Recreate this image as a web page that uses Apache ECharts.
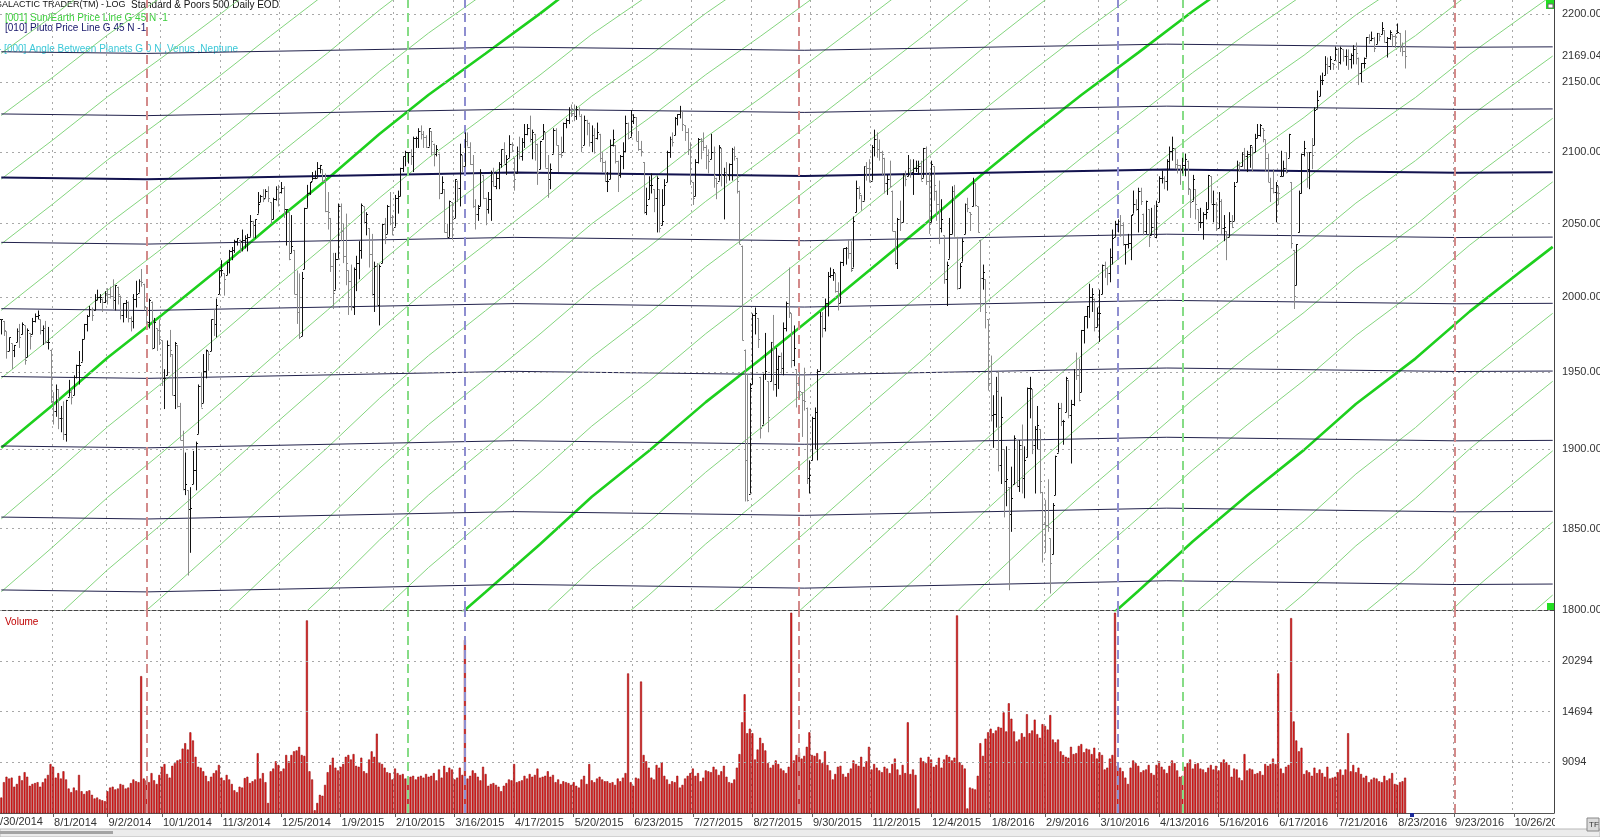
<!DOCTYPE html>
<html>
<head>
<meta charset="utf-8">
<title>Galactic Trader - S&amp;P 500 Daily</title>
<script src="https://cdn.jsdelivr.net/npm/echarts@6.0.0/dist/echarts.min.js"></script>
<style>
  html, body { margin: 0; padding: 0; background: #fff; }
  #chart { width: 1600px; height: 837px; }
</style>
</head>
<body>
<div id="chart"></div>
<script>
// ---- data (S&P 500 daily, 7/3/2014 .. 8/26/2016) ----
const closes = [
  // 2014 Jul
  1985,1978,1964,1973,1965,1968,1977,1973,1982,1958,1978,1974,1984,1987,1988,1978,1979,1970,1970,1931,
  // Aug
  1925,1939,1920,1920,1910,1932,1937,1934,1947,1955,1955,1972,1982,1987,1992,1988,1998,2000,2000,1997,2003,
  // Sep
  2002,2001,1998,2008,2002,1988,1996,1997,1986,1984,1999,2002,2011,2010,1994,1983,1998,1966,1983,1978,1972,
  // Oct
  1946,1946,1968,1965,1935,1969,1928,1906,1875,1878,1862,1863,1887,1904,1941,1927,1951,1965,1962,1985,1982,1995,2018,
  // Nov
  2018,2012,2024,2031,2032,2038,2040,2038,2039,2040,2041,2052,2049,2053,2064,2069,2067,2073,2068,
  // Dec
  2053,2067,2074,2072,2075,2060,2060,2026,2035,2002,1990,1973,2013,2061,2071,2079,2082,2082,2089,2091,2080,2059,
  // 2015 Jan
  2058,2021,2003,2026,2062,2045,2028,2023,2011,1993,2019,2023,2032,2063,2051,2057,2029,2002,2021,1995,
  // Feb
  2021,2050,2041,2062,2055,2046,2068,2069,2089,2097,2100,2100,2097,2110,2110,2115,2113,2111,2104,
  // Mar
  2117,2108,2099,2102,2071,2079,2044,2041,2066,2053,2081,2075,2099,2090,2108,2104,2092,2062,2057,2061,2086,2068,
  // Apr
  2060,2067,2080,2076,2082,2092,2102,2092,2095,2106,2105,2081,2101,2097,2107,2113,2117,2109,2114,2106,2086,
  // May
  2108,2115,2089,2081,2088,2116,2105,2099,2098,2121,2123,2130,2128,2126,2131,2126,2104,2123,2121,2107,
  // Jun
  2112,2110,2114,2096,2093,2080,2080,2105,2109,2094,2084,2097,2101,2121,2110,2122,2125,2108,2102,2101,2058,2063,
  // Jul
  2077,2077,2068,2082,2047,2052,2077,2100,2109,2107,2124,2127,2129,2120,2114,2102,2080,2068,2093,2109,2108,2104,
  // Aug
  2098,2094,2100,2084,2078,2104,2084,2086,2084,2092,2102,2097,2080,2036,1971,1893,1868,1940,1988,1989,1972,
  // Sep
  1914,1949,1951,1921,1970,1942,1952,1961,1953,1979,1996,1990,1958,1966,1943,1938,1932,1931,1882,1884,1920,
  // Oct
  1924,1951,1987,1979,1996,2014,2015,2017,2004,1994,2024,2033,2033,2030,2018,2052,2075,2071,2066,2090,2089,2079,
  // Nov
  2104,2109,2102,2100,2099,2078,2081,2076,2045,2023,2053,2051,2084,2081,2089,2086,2089,2089,2090,2080,
  // Dec
  2103,2080,2050,2092,2077,2064,2047,2053,2012,2022,2043,2073,2041,2006,2021,2038,2064,2061,2057,2078,2063,2044,
  // 2016 Jan
  2013,2017,1990,1943,1922,1923,1938,1890,1921,1880,1881,1859,1869,1907,1877,1903,1882,1893,1940,
  // Feb
  1940,1903,1913,1916,1880,1853,1852,1851,1829,1865,1896,1927,1918,1918,1946,1922,1929,1952,1948,1932,
  // Mar
  1978,1987,1994,2000,2002,1980,1989,1989,2022,2020,2016,2027,2040,2050,2052,2049,2036,2036,2037,2056,2064,2060,
  // Apr
  2073,2066,2045,2066,2041,2048,2041,2062,2082,2082,2080,2094,2101,2103,2092,2091,2088,2091,2095,2075,2065,
  // May
  2081,2064,2051,2051,2057,2058,2084,2064,2064,2047,2066,2047,2048,2041,2052,2048,2076,2091,2090,2099,2097,
  // Jun
  2099,2105,2100,2110,2112,2119,2116,2096,2079,2075,2072,2077,2071,2083,2089,2086,2113,2037,2001,2036,2071,2099,
  // Jul
  2103,2088,2100,2098,2130,2137,2152,2152,2163,2162,2167,2163,2174,2165,2175,2169,2169,2167,2170,2174,
  // Aug
  2171,2157,2164,2164,2183,2181,2182,2175,2186,2184,2190,2179,2182,2187,2184,2183,2187,2176,2173,2169
];

const highs = [
  1985,1984,1977,1973,1969,1968,1979,1982,1983,1981,1979,1976,1986,1989,1991,1985,1981,1984,1980,1965,
  1937,1942,1939,1928,1931,1932,1945,1939,1948,1955,1964,1972,1982,1988,1994,1993,2002,2005,2002,1999,2004,
  2006,2007,2012,2008,2007,2001,1996,1998,1997,1987,2002,2011,2012,2019,2009,1993,1999,1997,1986,1979,1985,
  1971,1952,1971,1978,1962,1970,1968,1930,1912,1898,1874,1876,1899,1905,1942,1950,1962,1965,1964,1985,1992,1999,2018,
  2025,2016,2024,2032,2034,2039,2040,2039,2046,2042,2043,2056,2052,2053,2072,2070,2074,2074,2076,
  2065,2068,2076,2077,2079,2076,2060,2058,2056,2032,2018,2016,2017,2061,2077,2079,2086,2087,2093,2091,2088,2085,
  2072,2054,2030,2030,2064,2064,2050,2057,2018,2022,2020,2028,2038,2064,2062,2058,2047,2043,2024,2023,
  2022,2050,2054,2063,2072,2056,2070,2073,2089,2097,2101,2100,2102,2111,2111,2117,2119,2115,2112,
  2117,2115,2106,2105,2099,2083,2074,2050,2066,2065,2081,2080,2106,2098,2114,2114,2107,2098,2067,2063,2088,2084,
  2068,2072,2087,2089,2086,2093,2102,2107,2098,2112,2107,2096,2104,2111,2110,2120,2120,2126,2116,2113,2106,
  2108,2120,2114,2098,2092,2117,2117,2105,2111,2121,2124,2132,2134,2134,2133,2132,2127,2126,2123,2121,
  2119,2117,2121,2113,2100,2094,2086,2109,2116,2105,2094,2098,2107,2126,2121,2130,2127,2125,2115,2108,2093,2075,
  2083,2085,2074,2083,2074,2074,2081,2101,2111,2114,2125,2127,2133,2129,2119,2117,2107,2079,2095,2110,2110,2114,
  2105,2102,2113,2104,2082,2105,2103,2089,2093,2092,2103,2104,2096,2073,2035,1965,1949,1943,1989,1993,1986,
  1947,1949,1976,1944,1970,1988,1966,1961,1963,1983,1997,2020,1989,1981,1952,1950,1937,1953,1927,1893,1921,
  1927,1952,1990,1990,1999,2017,2020,2019,2016,2010,2024,2033,2034,2039,2038,2055,2080,2076,2070,2090,2093,2095,
  2105,2116,2114,2109,2101,2096,2084,2094,2073,2045,2054,2066,2085,2087,2098,2095,2095,2094,2094,2094,
  2103,2104,2086,2094,2090,2073,2080,2067,2042,2024,2054,2076,2077,2041,2023,2040,2064,2068,2058,2082,2078,2062,
  2039,2022,2012,1985,1961,1935,1947,1951,1934,1900,1902,1876,1889,1909,1906,1906,1916,1902,1940,
  1947,1939,1915,1928,1913,1873,1868,1881,1844,1866,1896,1930,1930,1919,1947,1945,1932,1952,1963,1959,
  1978,1987,1994,2009,2006,1999,1993,2005,2022,2024,2020,2033,2046,2052,2053,2056,2051,2036,2043,2056,2073,2067,
  2075,2075,2057,2066,2060,2061,2063,2066,2083,2087,2083,2095,2104,2111,2103,2095,2091,2096,2099,2094,2074,
  2084,2074,2060,2061,2058,2065,2084,2083,2073,2065,2072,2067,2056,2045,2058,2056,2079,2094,2093,2100,2103,
  2101,2105,2104,2113,2120,2120,2117,2109,2099,2082,2088,2079,2076,2101,2094,2100,2113,2079,2032,2036,2073,2099,
  2108,2100,2100,2110,2132,2144,2155,2157,2169,2168,2169,2164,2176,2175,2176,2174,2174,2174,2171,2177,
  2179,2168,2164,2168,2183,2185,2187,2183,2186,2186,2194,2188,2183,2188,2185,2185,2193,2186,2179,2188
];

const lows = [
  1975,1974,1959,1964,1952,1960,1970,1966,1975,1955,1960,1965,1975,1983,1985,1975,1968,1969,1965,1930,
  1916,1921,1913,1911,1906,1905,1934,1929,1935,1946,1942,1957,1972,1977,1987,1984,1991,1998,1996,1990,1996,
  1995,1999,1992,1991,1995,1985,1983,1986,1983,1977,1979,1993,2003,2007,1991,1982,1979,1965,1966,1964,1968,
  1941,1926,1948,1960,1935,1926,1927,1906,1874,1871,1821,1835,1878,1874,1910,1927,1930,1946,1951,1964,1974,1973,2002,
  2014,2001,2015,2016,2025,2030,2035,2030,2031,2033,2031,2041,2040,2040,2057,2065,2065,2068,2065,
  2050,2053,2066,2062,2071,2054,2035,2025,2030,2002,1982,1972,1974,2019,2061,2070,2080,2081,2082,2085,2079,2058,
  2046,2017,1992,2005,2026,2038,2023,2008,1988,1991,1988,2004,2012,2026,2050,2042,2020,2001,1990,1994,
  1981,2023,2036,2043,2049,2042,2048,2057,2069,2086,2090,2092,2091,2086,2103,2103,2109,2103,2103,
  2104,2098,2090,2097,2067,2071,2044,2040,2041,2039,2054,2065,2062,2086,2090,2104,2091,2061,2046,2052,2062,2067,
  2049,2057,2052,2076,2074,2074,2089,2092,2084,2096,2100,2073,2085,2095,2094,2103,2112,2107,2095,2094,2077,
  2088,2109,2089,2068,2074,2099,2105,2086,2096,2100,2117,2120,2125,2122,2123,2126,2100,2105,2112,2104,
  2100,2099,2109,2093,2086,2079,2072,2081,2104,2092,2072,2082,2088,2100,2109,2111,2120,2108,2101,2097,2057,2056,
  2067,2071,2058,2044,2044,2049,2063,2079,2096,2104,2112,2119,2124,2115,2108,2098,2077,2063,2069,2092,2095,2101,
  2088,2085,2095,2075,2067,2080,2076,2053,2078,2080,2080,2094,2071,2036,1971,1867,1867,1872,1942,1975,1966,
  1907,1916,1945,1911,1944,1938,1934,1939,1949,1948,1977,1986,1953,1954,1927,1933,1908,1925,1878,1872,1893,
  1900,1893,1951,1973,1977,1987,2013,2011,2003,1991,1996,2021,2022,2026,2017,2020,2058,2067,2059,2066,2080,2079,
  2080,2097,2096,2094,2084,2071,2070,2075,2045,2022,2019,2045,2051,2076,2083,2082,2070,2086,2084,2080,
  2082,2077,2043,2051,2066,2052,2036,2044,2009,1994,2026,2043,2041,2005,2006,2024,2043,2058,2045,2062,2062,2044,
  1990,2005,1979,1938,1918,1901,1914,1886,1878,1857,1864,1812,1848,1878,1876,1873,1872,1869,1895,
  1920,1897,1872,1900,1872,1829,1835,1848,1810,1834,1871,1898,1915,1903,1924,1920,1891,1928,1945,1931,
  1937,1969,1979,1986,1990,1977,1980,1970,2002,2013,2008,2010,2022,2041,2044,2041,2035,2022,2033,2025,2057,2059,
  2044,2063,2042,2043,2034,2042,2041,2040,2065,2078,2074,2073,2088,2094,2088,2085,2077,2085,2083,2070,2054,
  2066,2053,2045,2047,2039,2053,2060,2064,2051,2045,2047,2043,2038,2025,2041,2047,2052,2079,2086,2090,2088,
  2086,2089,2086,2100,2110,2111,2107,2086,2079,2065,2071,2051,2063,2083,2083,2085,2096,2033,1992,2008,2044,2071,
  2097,2075,2074,2088,2105,2131,2140,2148,2155,2156,2159,2159,2166,2159,2163,2165,2162,2159,2160,2163,
  2163,2148,2150,2160,2168,2178,2180,2172,2178,2180,2185,2179,2168,2181,2176,2175,2186,2172,2169,2160
];

const volumes = [
  5200,6900,7500,7300,7400,6400,6700,7600,7100,8000,7500,6500,6700,6800,6900,6400,6900,7300,7700,8900,
  8600,7400,7900,7300,8100,7200,6200,5800,6300,6000,7700,5900,5600,5900,6000,5500,5100,5200,5000,4900,4800,
  5900,6300,6400,6100,6200,6700,6600,6200,6300,6800,7200,7000,6900,18600,7300,7100,6900,7900,7100,6700,7700,
  8600,8900,7800,7400,8700,9000,9300,9400,10600,11200,10500,12400,11500,9700,8600,8500,8100,7600,7000,7500,7900,8200,8800,
  7400,7100,7700,7200,6700,6000,5800,6400,6300,7350,7500,6800,7000,7200,10100,7300,7900,6900,4600,
  8100,8400,9200,8800,8100,8400,9900,9200,9900,10300,10400,10800,9900,9800,24750,8100,7200,3800,4600,5500,5400,6600,
  8000,8800,9600,8500,8200,8600,8900,9700,9900,9400,10000,8700,8600,9600,8100,7900,9400,10300,9700,12250,
  9100,8900,8500,8000,7900,7200,8400,7900,7700,7800,7300,7400,7500,7600,7200,7500,7600,7400,7800,
  7500,7600,7900,7100,8300,7400,8700,8000,8500,8300,7200,7400,8500,7700,22600,7300,7600,8200,7900,7500,7100,8600,
  7800,6500,6700,6800,6600,6400,5900,6500,6800,7200,7100,8900,6900,7000,7100,7600,7300,7800,7500,7700,8400,
  7400,7500,7600,8100,7500,7700,6900,7200,6700,7000,6900,6800,6600,6900,6500,6300,7200,7600,6700,8900,
  7100,6900,7300,7500,7200,7000,7000,6800,6900,6600,7300,7000,7400,7900,18900,6900,6500,7400,7300,18000,9900,9200,
  8500,7400,7200,8800,8500,9100,7600,7200,6700,7000,6900,7600,6300,6600,7300,7600,7900,8400,7600,7900,7000,7400,
  8200,8100,8000,8600,8300,7700,8100,8700,7500,6900,6800,7200,8500,10000,13500,16600,12300,12800,12300,9400,10500,
  11800,11200,10400,9000,8500,8800,9300,8900,8400,8200,7900,8600,25600,9300,9900,10200,9500,9800,10800,12400,9900,
  9800,10100,9400,9000,10300,8800,8200,7200,7800,8600,8700,7800,7500,7900,8400,9300,8900,8700,9700,8600,9200,10800,
  8300,8900,8500,8200,8000,8600,8400,7900,8900,9500,8300,7700,8800,7900,13500,7800,8300,7700,4000,9600,
  9200,9000,9700,9400,8600,8800,9600,8500,9400,9900,9700,9300,9600,25300,9100,8800,8400,4000,6300,6200,6100,7600,
  11200,9800,11700,12400,12800,12300,12600,13000,12900,14600,12500,15600,13900,12500,11400,11600,12300,11900,14400,
  12300,12600,13800,12200,11800,13300,13100,12700,14300,11600,11300,11600,10300,9900,9700,9600,10800,10000,10100,10900,
  11100,10200,10600,10500,10000,10700,9500,10200,9900,8300,8500,9500,9900,25600,8700,8500,8100,7400,6700,8500,9300,9000,
  8700,8000,8200,8300,8800,7900,7700,8800,9200,8600,8300,7900,8700,9300,9000,8200,7500,7600,8600,9000,9400,
  8400,8900,9000,8400,8300,8000,8500,8800,8300,8700,8200,9100,9400,9100,8800,7500,8400,8300,7400,7100,10000,
  8200,8400,8300,7800,7900,8100,7700,8900,8700,8900,9500,8900,18900,8400,7900,8600,8800,25000,13600,11500,10300,10700,
  7800,8200,8000,7600,8500,7900,8300,7900,7500,8600,7300,7400,7500,8000,8300,7700,8300,12300,8100,8800,
  8000,8500,7800,7400,7600,6900,7200,7400,7300,7000,6900,7600,7100,7300,7900,6700,6600,6900,7000,7400
];

// exchange holidays, to build the trading-day category axis
const holidays = [
  '2014-07-04','2014-09-01','2014-11-27','2014-12-25','2015-01-01','2015-01-19','2015-02-16',
  '2015-04-03','2015-05-25','2015-07-03','2015-09-07','2015-11-26','2015-12-25','2016-01-01',
  '2016-01-18','2016-02-15','2016-03-25','2016-05-30','2016-07-04','2016-09-05'
];
const barCount = 600; // visible trading days incl. empty future

const tickDates = [
  '8/1/2014','9/2/2014','10/1/2014','11/3/2014','12/5/2014','1/9/2015','2/10/2015','3/16/2015',
  '4/17/2015','5/20/2015','6/23/2015','7/27/2015','8/27/2015','9/30/2015','11/2/2015','12/4/2015',
  '1/8/2016','2/9/2016','3/10/2016','4/13/2016','5/16/2016','6/17/2016','7/21/2016','8/23/2016',
  '9/23/2016','10/26/2016'
];
const priceTicks = [2200, 2150, 2100, 2050, 2000, 1950, 1900, 1850, 1800];
const lastPrice = 2169.04;
const volumeTicks = [20294, 14694, 9094];

// Sun/Earth price line: sun longitude (unwrapped), G 45 harmonics
const sunDates = [
  '7/3/2014','8/1/2014','9/2/2014','10/1/2014','11/3/2014','12/1/2014','1/2/2015','2/2/2015',
  '3/2/2015','4/1/2015','5/1/2015','6/1/2015','7/1/2015','8/3/2015','9/1/2015','10/1/2015',
  '11/2/2015','12/1/2015','1/4/2016','2/1/2016','3/1/2016','4/1/2016','5/2/2016','6/1/2016',
  '7/1/2016','8/1/2016','9/1/2016','10/3/2016','11/1/2016','11/16/2016'
];
const sunLon = [
  101.1,128.8,159.5,187.9,220.6,248.9,281.3,312.9,341.0,370.9,400.3,430.0,459.0,490.5,518.4,
  547.7,579.4,608.7,643.2,671.6,700.8,731.6,762.0,790.7,819.7,849.3,879.0,910.4,939.1,954.1
];
const sunOffsets = [
  810,855,900,945,990,1035,1080,1125,1170,1215,1260,1305,1350,1395,1440,
  1485,1530,1575,1620,1665,1710,1755,1800,1845,1890,1935,1980,2025,2070,2115
];

// Pluto price line
const plutoDates = ['7/3/2014','9/23/2014','4/17/2015','9/25/2015','4/18/2016','9/26/2016','11/16/2016'];
const plutoLon = [282.2, 281.0, 285.6, 283.3, 287.8, 285.5, 285.8];
const plutoOffsets = [1530,1575,1620,1665,1710,1755,1800,1845,1890,1935];

// vertical markers
const autumnDates = ['9/23/2014', '9/23/2015', '9/23/2016'];
const springDates = ['3/20/2015', '3/21/2016'];
const greenDates = ['2/18/2015', '4/26/2016'];

// ---- build ----
function buildDates(count) {
  const out = [];
  let t = Date.UTC(2014, 6, 3);
  while (out.length < count) {
    const d = new Date(t);
    const wd = d.getUTCDay();
    const iso = d.toISOString().slice(0, 10);
    if (wd !== 0 && wd !== 6 && holidays.indexOf(iso) < 0) {
      out.push((d.getUTCMonth() + 1) + '/' + d.getUTCDate() + '/' + d.getUTCFullYear());
    }
    t += 86400000;
  }
  return out;
}
const dates = buildDates(barCount);
if (highs.length !== closes.length || lows.length !== closes.length || volumes.length !== closes.length) {
  console.error('length mismatch', closes.length, highs.length, lows.length, volumes.length);
}

const tickSet = new Set(tickDates);
const showTick = (i, v) => tickSet.has(v);
const FONT = 'Liberation Sans, Arial, sans-serif';

const ohlc = closes.map((c, i) => [i, highs[i], lows[i], c]);

const gridLine = { color: '#a8a8a8', type: [2, 4], width: 1 };

function vMarks() {
  const out = [];
  autumnDates.forEach(d => out.push({ xAxis: d, lineStyle: { color: '#d38a8a', type: [9, 5], width: 2 } }));
  springDates.forEach(d => out.push({ xAxis: d, lineStyle: { color: '#8e8ed0', type: [9, 5], width: 2 } }));
  greenDates.forEach(d => out.push({ xAxis: d, lineStyle: { color: '#86dc86', type: [9, 5], width: 2 } }));
  return out;
}

const series = [];

// price pane grid lines + axis labels
series.push({
  type: 'line', xAxisIndex: 0, yAxisIndex: 0, data: [], z: 1, silent: true,
  markLine: {
    silent: true, symbol: ['none', 'none'], animation: false,
    label: { show: true, position: 'end', distance: 8, color: '#333', fontSize: 11, fontFamily: FONT },
    lineStyle: gridLine,
    data: priceTicks.map(v => ({ yAxis: v, label: { formatter: v.toFixed(2) } }))
      .concat([{ yAxis: lastPrice, lineStyle: { color: 'transparent' }, label: { formatter: lastPrice.toFixed(2) } }])
  }
});
series.push({
  type: 'line', xAxisIndex: 0, yAxisIndex: 0, data: [], z: 3, silent: true,
  markLine: { silent: true, symbol: ['none', 'none'], animation: false, label: { show: false }, data: vMarks() }
});

// sun lines
sunOffsets.forEach(off => {
  const thick = off % 360 === 0;
  series.push({
    type: 'line', xAxisIndex: 0, yAxisIndex: 0, showSymbol: false, silent: true, z: thick ? 3 : 2,
    lineStyle: { color: thick ? '#1ed01e' : '#84d47e', width: thick ? 2.6 : 1 },
    data: sunDates.map((d, k) => [d, sunLon[k] + off])
  });
});

// pluto lines
plutoOffsets.forEach(off => {
  const thick = off % 360 === 0;
  series.push({
    type: 'line', xAxisIndex: 0, yAxisIndex: 0, showSymbol: false, silent: true, z: 3,
    lineStyle: { color: thick ? '#12124e' : '#22224c', width: thick ? 2 : 1 },
    data: plutoDates.map((d, k) => [d, plutoLon[k] + off])
  });
});

// OHLC bars (left tick at prior close, right tick at close)
series.push({
  type: 'custom', xAxisIndex: 0, yAxisIndex: 0, z: 5, silent: true,
  data: ohlc,
  encode: { x: 0, y: [1, 2, 3] },
  renderItem: function (params, api) {
    const i = api.value(0);
    const hi = api.coord([i, api.value(1)]);
    const lo = api.coord([i, api.value(2)]);
    const cl = api.coord([i, api.value(3)]);
    const prev = i === 0 ? closes[0] : closes[i - 1];
    const op = api.coord([i, Math.min(Math.max(prev, lows[i]), highs[i])]);
    const up = closes[i] >= prev;
    const color = up ? '#111111' : '#8a8a8a';
    const x = Math.round(hi[0]) + 0.5;
    const yc = Math.round(cl[1]) + 0.5;
    const yo = Math.round(op[1]) + 0.5;
    return {
      type: 'group',
      children: [
        { type: 'line', shape: { x1: x, y1: hi[1], x2: x, y2: lo[1] }, style: { stroke: color, lineWidth: 1 } },
        { type: 'line', shape: { x1: x - 1.5, y1: yo, x2: x, y2: yo }, style: { stroke: color, lineWidth: 1 } },
        { type: 'line', shape: { x1: x, y1: yc, x2: x + 1.5, y2: yc }, style: { stroke: color, lineWidth: 1 } }
      ]
    };
  }
});

// volume
series.push({
  type: 'bar', xAxisIndex: 1, yAxisIndex: 1, data: volumes, barWidth: 2, silent: true, z: 4,
  itemStyle: { color: '#ec1c1c', borderColor: '#8e0b0b', borderWidth: 0.6 },
  markLine: {
    silent: true, symbol: ['none', 'none'], animation: false,
    label: { show: true, position: 'end', distance: 8, color: '#333', fontSize: 11, fontFamily: FONT },
    lineStyle: gridLine,
    data: volumeTicks.map(v => ({ yAxis: v, label: { formatter: String(v) } }))
  }
});
series.push({
  type: 'line', xAxisIndex: 1, yAxisIndex: 1, data: [], z: 5, silent: true,
  markLine: { silent: true, symbol: ['none', 'none'], animation: false, label: { show: false }, data: vMarks() }
});

const chart = echarts.init(document.getElementById('chart'), null, { renderer: 'canvas' });
chart.setOption({
  animation: false,
  backgroundColor: '#ffffff',
  textStyle: { fontFamily: FONT },
  grid: [
    { left: 0, right: 46, top: 0, height: 610 },
    { left: 0, right: 46, top: 610, height: 203 }
  ],
  xAxis: [
    {
      type: 'category', gridIndex: 0, data: dates, boundaryGap: true,
      axisLabel: { show: false }, axisTick: { show: false },
      axisLine: { show: true, lineStyle: { color: '#444', width: 1 } },
      splitLine: { show: true, interval: showTick, lineStyle: gridLine }
    },
    {
      type: 'category', gridIndex: 1, data: dates, boundaryGap: true,
      axisLine: { show: true, lineStyle: { color: '#555', width: 1 } },
      axisTick: { show: true, interval: showTick, alignWithLabel: true, length: 4, lineStyle: { color: '#666' } },
      axisLabel: {
        show: true, interval: showTick, align: 'left', margin: 4, padding: [0, 0, 0, 1],
        color: '#333', fontSize: 11, fontFamily: FONT
      },
      splitLine: { show: true, interval: showTick, lineStyle: gridLine }
    }
  ],
  yAxis: [
    {
      type: 'log', logBase: 10, gridIndex: 0, min: 1800, max: 2210.4, position: 'right',
      axisLabel: { show: false }, axisTick: { show: false }, splitLine: { show: false },
      axisLine: { show: true, lineStyle: { color: '#444' } }
    },
    {
      type: 'value', gridIndex: 1, min: 3494, max: 25894, position: 'right',
      axisLabel: { show: false }, axisTick: { show: false }, splitLine: { show: false },
      axisLine: { show: true, lineStyle: { color: '#444' } }
    }
  ],
  series: series,
  graphic: [
    { type: 'text', x: -5, y: 5, style: { text: 'GALACTIC TRADER(TM) - LOG', fill: '#111', fontSize: 9, fontFamily: FONT, verticalAlign: 'middle' } },
    { type: 'text', x: 131, y: 5, style: { text: 'Standard & Poors 500 Daily EOD', fill: '#111', fontSize: 10, fontFamily: FONT, verticalAlign: 'middle' } },
    { type: 'text', x: 5, y: 18, style: { text: '[001] Sun/Earth Price Line G 45 N -1', fill: '#3ccf3c', fontSize: 10, fontFamily: FONT, verticalAlign: 'middle' } },
    { type: 'text', x: 5, y: 28, style: { text: '[010] Pluto Price Line G 45 N -1', fill: '#15156a', fontSize: 10, fontFamily: FONT, verticalAlign: 'middle' } },
    { type: 'text', x: -2, y: 49, style: { text: '- [000] Angle Between Planets G 0 N ,Venus ,Neptune', fill: '#3cc8d8', fontSize: 10, fontFamily: FONT, verticalAlign: 'middle' } },
    { type: 'text', x: 5, y: 622, style: { text: 'Volume', fill: '#c00000', fontSize: 10, fontFamily: FONT, verticalAlign: 'middle' } },
    { type: 'text', x: -6, y: 822, style: { text: '6/30/2014', fill: '#333', fontSize: 11, fontFamily: FONT, verticalAlign: 'middle' } },
    { type: 'rect', z: 100, shape: { x: 1555, y: 814, width: 30, height: 14 }, style: { fill: '#ffffff' } },
    { type: 'rect', z: 100, shape: { x: 1546, y: 0, width: 8, height: 9 }, style: { fill: '#22dd22' } },
    { type: 'rect', z: 101, shape: { x: 1548, y: 4, width: 5, height: 4 }, style: { fill: '#ffffff', stroke: '#666', lineWidth: 1 } },
    { type: 'rect', z: 100, shape: { x: 1547, y: 603, width: 7, height: 7 }, style: { fill: '#22dd22' } },
    { type: 'rect', z: 100, shape: { x: 1410, y: 813, width: 4, height: 4 }, style: { fill: '#1a2a9a' } },
    { type: 'rect', z: 100, shape: { x: 0, y: 829, width: 1600, height: 8 }, style: { fill: '#ececec', stroke: '#b8b8b8', lineWidth: 1 } },
    { type: 'rect', z: 101, shape: { x: 0, y: 831, width: 113, height: 3 }, style: { fill: '#a4a4a4' } },
    { type: 'rect', z: 101, shape: { x: 1587, y: 818, width: 12, height: 13 }, style: { fill: '#dcdcdc', stroke: '#888', lineWidth: 1 } },
    { type: 'text', z: 102, x: 1589, y: 825, style: { text: 'TF', fill: '#333', fontSize: 8, fontFamily: FONT, verticalAlign: 'middle' } }
  ]
});
</script>
</body>
</html>
